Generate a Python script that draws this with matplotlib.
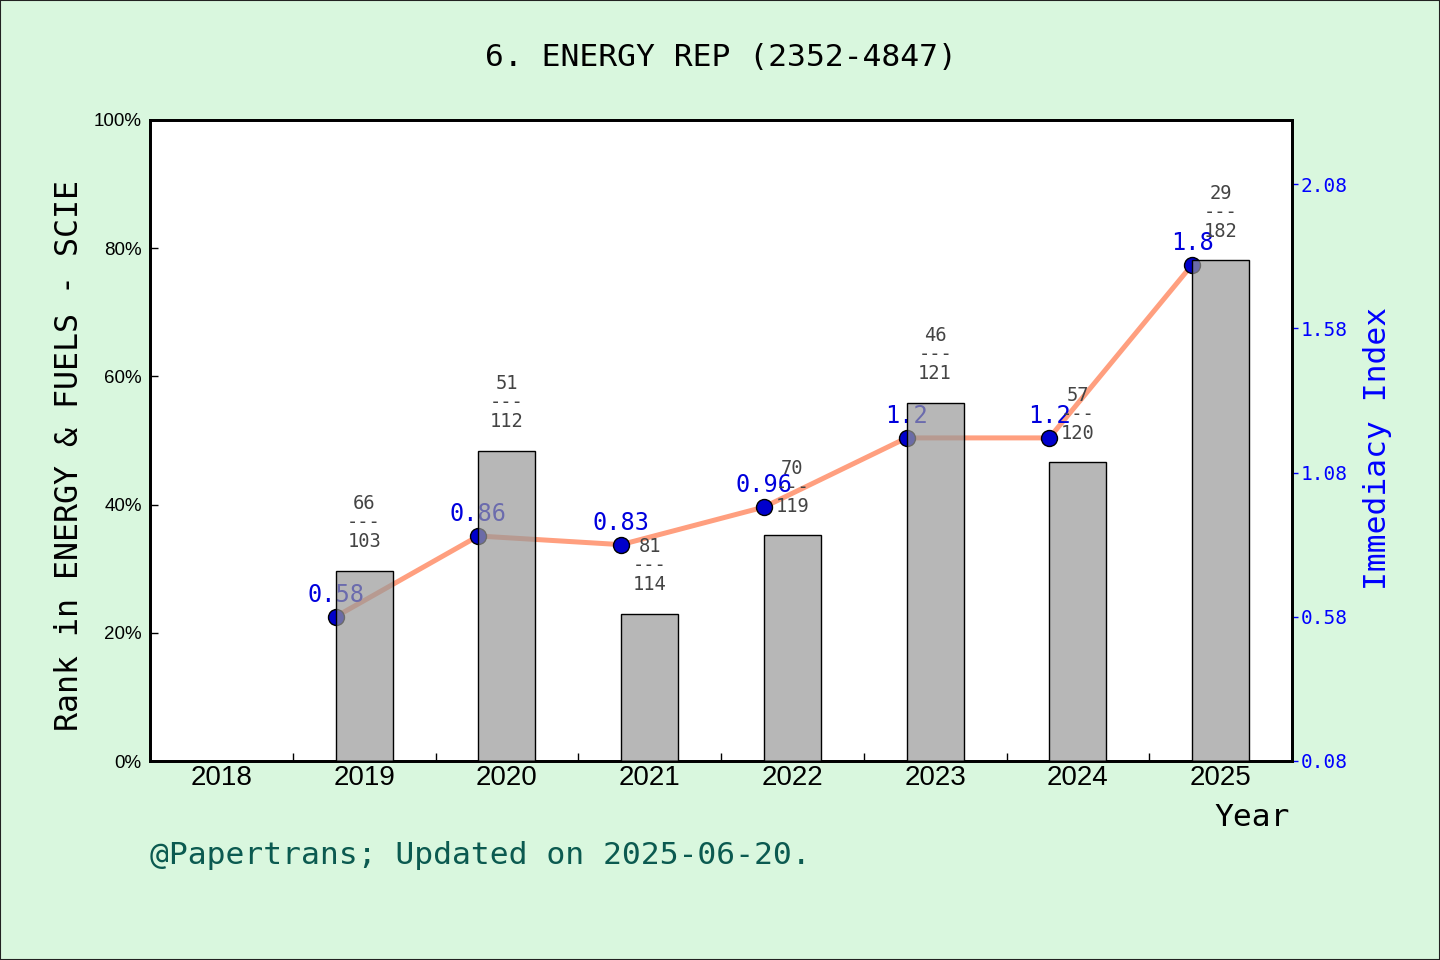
import matplotlib
matplotlib.use("Agg")
import matplotlib.pyplot as plt
import numpy as np
from matplotlib.patches import Rectangle

years = ["2018", "2019", "2020", "2021", "2022", "2023", "2024", "2025"]
bar_share = [None, 0.297, 0.484, 0.230, 0.352, 0.559, 0.466, 0.781]
rank = [None, 66, 51, 81, 70, 46, 57, 29]
total = [None, 103, 112, 114, 119, 121, 120, 182]
imm_index = [None, 0.58, 0.86, 0.83, 0.96, 1.2, 1.2, 1.8]

bg = "#d9f7de"
mono = "DejaVu Sans Mono"

fig = plt.figure(figsize=(14.4, 9.6), dpi=100, facecolor=bg)
fig.patches.append(Rectangle((0, 0), 1, 1, transform=fig.transFigure,
                             fill=False, edgecolor="#222222", linewidth=1.5))
ax = fig.add_axes([150 / 1440, 1 - 761 / 960, 1142 / 1440, 641 / 960])
ax2 = ax.twinx()

x = np.arange(len(years))
bx = [i for i, v in zip(x, bar_share) if v is not None]
bh = [v for v in bar_share if v is not None]

# bars on top of the line, a bit transparent
ax2.set_zorder(1)
ax.set_zorder(2)
ax.patch.set_visible(False)
ax2.patch.set_facecolor("white")
ax2.patch.set_visible(True)

ax.bar(bx, bh, width=0.4, facecolor=(0.6, 0.6, 0.6, 0.7), edgecolor="black",
       linewidth=1, zorder=3)
for i, h in zip(bx, bh):
    ax.annotate(f"{rank[i]}\n---\n{total[i]}", (i, h), xytext=(0, 14),
                textcoords="offset points", ha="center", va="bottom",
                fontsize=13.5, color="#444444", linespacing=1.0,
                family=mono)

lx = [i - 0.2 for i, v in zip(x, imm_index) if v is not None]
ly = [v for v in imm_index if v is not None]
ax2.plot(lx, ly, color="#ff9f7f", linewidth=3.6, zorder=2)
ax2.plot(lx, ly, "o", color="#0000cc", markeredgecolor="black",
         markersize=11.5, markeredgewidth=1, zorder=3)
for xx, yy in zip(lx, ly):
    ax2.annotate(f"{yy:g}", (xx, yy), xytext=(0, 7), textcoords="offset points",
                 ha="center", va="bottom", fontsize=17, color="#0000dd",
                 family=mono)

ax.set_xlim(-0.5, 7.5)
ax.set_ylim(0, 1)
ax.set_yticks(np.arange(0, 1.01, 0.2))
ax.set_yticklabels([f"{int(round(t * 100))}%" for t in np.arange(0, 1.01, 0.2)],
                   family="Liberation Sans", fontsize=13.5)
ax.tick_params(axis="y", direction="in", length=6, width=1, pad=6)

ax.set_xticks(x + 0.5)
ax.set_xticklabels([])
ax.set_xticks(x, minor=True)
ax.set_xticklabels(years, minor=True, family="Liberation Sans", fontsize=20)
ax.tick_params(axis="x", which="major", direction="in", length=6, width=1)
ax.tick_params(axis="x", which="minor", length=0, pad=3)

ax2.set_ylim(0.08, 2.302)
ax2.set_yticks([0.08, 0.58, 1.08, 1.58, 2.08])
ax2.set_yticklabels(["0.08", "0.58", "1.08", "1.58", "2.08"], family=mono,
                    fontsize=14, color="blue")
ax2.tick_params(axis="y", direction="out", length=4, width=1, colors="blue",
                pad=2)

for a in (ax, ax2):
    for s in a.spines.values():
        s.set_linewidth(2)
        s.set_color("black")

ax.set_ylabel("Rank in ENERGY & FUELS - SCIE", family=mono, fontsize=22.8)
ax.yaxis.set_label_coords(-0.057, 0.477)
ax2.set_ylabel("Immediacy Index", family=mono, fontsize=22.5, color="blue")
ax2.yaxis.set_label_coords(1.062, 0.488)

fig.text(721 / 1440, 1 - 57 / 960, "6. ENERGY REP (2352-4847)", family=mono,
         fontsize=22.6, ha="center", va="center")
fig.text(1290 / 1440, 1 - 817 / 960, "Year", family=mono, fontsize=22.5,
         ha="right", va="center")
fig.text(150 / 1440, 1 - 855 / 960, "@Papertrans; Updated on 2025-06-20.",
         family=mono, fontsize=22.6, ha="left", va="center", color="#0b5a50")

fig.savefig("out.png", dpi=100, facecolor=bg)
